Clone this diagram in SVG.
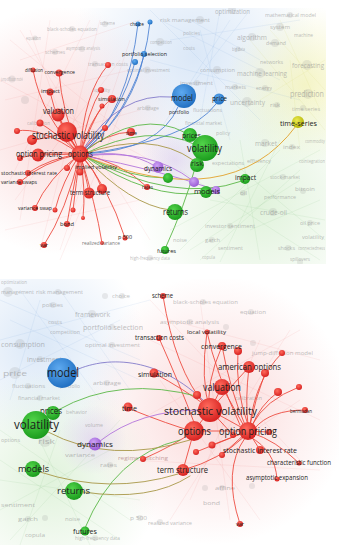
<svg xmlns="http://www.w3.org/2000/svg" width="339" height="550" viewBox="0 0 339 550">
<style>
text{font-family:"Open Sans","Liberation Sans",sans-serif}
.t{fill:#1c1c1c}
.f{fill:#8c8c8c;opacity:.55}
.e{fill:none;stroke-width:1;stroke-linecap:round}
.er{stroke:#ec4438;opacity:.85}
.eb{stroke:#4a80d2;opacity:.85}
.ebp{stroke:#7c74c8;opacity:.85}
.eg{stroke:#5cb848;opacity:.9}
.eo{stroke:#a89848;opacity:.9}
.eor{stroke:#e2a22c;opacity:.9}
.ep{stroke:#b476dc;opacity:.9}
.bg{fill:none;stroke-width:.5;opacity:.18}
.r{fill:url(#gr)}
.b{fill:url(#gb)}
.g{fill:url(#gg)}
.p{fill:url(#gp)}
.y{fill:url(#gy)}
</style>
<defs>
<radialGradient id="gr" cx=".4" cy=".35" r=".7"><stop offset="0" stop-color="#ff6a5c"/><stop offset="1" stop-color="#d41c1c"/></radialGradient>
<radialGradient id="gb" cx=".4" cy=".35" r=".7"><stop offset="0" stop-color="#5eaaf0"/><stop offset="1" stop-color="#1d6cbf"/></radialGradient>
<radialGradient id="gg" cx=".4" cy=".35" r=".7"><stop offset="0" stop-color="#52d44a"/><stop offset="1" stop-color="#17981a"/></radialGradient>
<radialGradient id="gp" cx=".4" cy=".35" r=".7"><stop offset="0" stop-color="#cda2f4"/><stop offset="1" stop-color="#9656d4"/></radialGradient>
<radialGradient id="gy" cx=".4" cy=".35" r=".7"><stop offset="0" stop-color="#eaea50"/><stop offset="1" stop-color="#b0b000"/></radialGradient>
<radialGradient id="hR"><stop offset="0" stop-color="#f6b8b8" stop-opacity=".55"/><stop offset="1" stop-color="#f6b8b8" stop-opacity="0"/></radialGradient>
<radialGradient id="hB"><stop offset="0" stop-color="#c2d8f2" stop-opacity=".6"/><stop offset="1" stop-color="#c2d8f2" stop-opacity="0"/></radialGradient>
<radialGradient id="hY"><stop offset="0" stop-color="#efefa8" stop-opacity=".65"/><stop offset="1" stop-color="#efefa8" stop-opacity="0"/></radialGradient>
<radialGradient id="hG"><stop offset="0" stop-color="#cceac4" stop-opacity=".6"/><stop offset="1" stop-color="#cceac4" stop-opacity="0"/></radialGradient>
<radialGradient id="hP"><stop offset="0" stop-color="#dccaf0" stop-opacity=".6"/><stop offset="1" stop-color="#dccaf0" stop-opacity="0"/></radialGradient>
<clipPath id="cTop"><rect x="0" y="8" width="326" height="256"/></clipPath>
<clipPath id="cBot"><rect x="0" y="279" width="339" height="266"/></clipPath>
</defs>
<rect width="339" height="550" fill="#fff"/>

<!-- ========== TOP PANEL ========== -->
<g id="top-panel" clip-path="url(#cTop)">
<g id="top-background">
<circle cx="60" cy="130" r="125" fill="url(#hR)"/>
<circle cx="195" cy="55" r="125" fill="url(#hB)"/>
<circle cx="305" cy="85" r="80" fill="url(#hY)"/>
<circle cx="260" cy="205" r="125" fill="url(#hG)"/>
<circle cx="175" cy="160" r="35" fill="url(#hP)"/>
<path class="bg" stroke="#e86060" d="M10,40L120,130M20,60L140,20M5,100L130,70M30,30L90,200M50,20L20,220M0,150L140,110M15,200L120,60M60,260L130,90M100,20L40,250M0,80L150,160M5,230L140,200M20,30L150,240M90,20L10,180M130,40L60,250"/>
<path class="bg" stroke="#5a8ed8" d="M150,10L260,120M170,40L300,20M180,100L250,10M200,30L230,140M150,60L300,100M230,20L160,130M260,60L190,20M160,20L280,80M220,10L200,120"/>
<path class="bg" stroke="#c8c840" d="M250,40L325,130M280,20L320,110M260,100L325,60M290,60L300,150M270,30L325,90"/>
<path class="bg" stroke="#60b060" d="M170,230L320,150M200,260L300,170M180,170L320,260M240,140L260,260M210,200L325,220M280,140L220,262M300,180L190,250M250,230L320,200M230,160L325,240M180,250L280,150"/>
<g fill="#8a8a8a" opacity=".16">
<circle cx="105" cy="24" r="3"/><circle cx="72" cy="29" r="3"/><circle cx="35" cy="38" r="2.5"/><circle cx="55" cy="52" r="3"/><circle cx="82" cy="49" r="3"/><circle cx="95" cy="64" r="3"/><circle cx="12" cy="79" r="3.5"/><circle cx="25" cy="100" r="4"/><circle cx="160" cy="42" r="4"/><circle cx="147" cy="70" r="3.5"/><circle cx="148" cy="108" r="3"/><circle cx="232" cy="10" r="4"/><circle cx="200" cy="20" r="4"/><circle cx="290" cy="15" r="3"/><circle cx="280" cy="27" r="4"/><circle cx="252" cy="37" r="4"/><circle cx="275" cy="43" r="4"/><circle cx="238" cy="49" r="2.5"/><circle cx="307" cy="65" r="5"/><circle cx="260" cy="73" r="5"/><circle cx="217" cy="70" r="4"/><circle cx="197" cy="83" r="3"/><circle cx="235" cy="87" r="3"/><circle cx="265" cy="88" r="3"/><circle cx="308" cy="94" r="5"/><circle cx="247" cy="102" r="5"/><circle cx="277" cy="105" r="3"/><circle cx="303" cy="108" r="3"/><circle cx="265" cy="143" r="4"/><circle cx="292" cy="147" r="3"/><circle cx="283" cy="177" r="3"/><circle cx="303" cy="191" r="3"/><circle cx="243" cy="193" r="3"/><circle cx="273" cy="212" r="4"/><circle cx="310" cy="223" r="3"/><circle cx="212" cy="240" r="3"/><circle cx="288" cy="248" r="3"/><circle cx="300" cy="262" r="3"/><circle cx="150" cy="258" r="3"/><circle cx="230" cy="226" r="3"/>
</g>
<g id="top-faded-labels">
<text class="f" x="47" y="31" font-size="5.5" textLength="50" lengthAdjust="spacingAndGlyphs">black-scholes equation</text>
<text class="f" x="100" y="25" font-size="5.5" textLength="15" lengthAdjust="spacingAndGlyphs">scheme</text>
<text class="f" x="26" y="40" font-size="5" textLength="15" lengthAdjust="spacingAndGlyphs">equation</text>
<text class="f" x="45" y="54" font-size="5" textLength="20" lengthAdjust="spacingAndGlyphs">schemes</text>
<text class="f" x="66" y="50" font-size="5" textLength="34" lengthAdjust="spacingAndGlyphs">asymptotic analysis</text>
<text class="f" x="88" y="66" font-size="5" textLength="40" lengthAdjust="spacingAndGlyphs">transaction costs</text>
<text class="f" x="1" y="81" font-size="4.5" textLength="22" lengthAdjust="spacingAndGlyphs">jump-diffusion model</text>
<text class="f" x="93" y="92" font-size="5" textLength="17" lengthAdjust="spacingAndGlyphs">liquidity</text>
<text class="f" x="27" y="125" font-size="5" textLength="23" lengthAdjust="spacingAndGlyphs">calibration</text>
<text class="f" x="137" y="110" font-size="5" textLength="22" lengthAdjust="spacingAndGlyphs">arbitrage</text>
<text class="f" x="127" y="72" font-size="5" textLength="43" lengthAdjust="spacingAndGlyphs">optimal investment</text>
<text class="f" x="150" y="44" font-size="5" textLength="22" lengthAdjust="spacingAndGlyphs">competition</text>
<text class="f" x="215" y="14" font-size="7" textLength="35" lengthAdjust="spacingAndGlyphs">optimization</text>
<text class="f" x="160" y="22" font-size="6" textLength="50" lengthAdjust="spacingAndGlyphs">risk management</text>
<text class="f" x="265" y="17" font-size="6" textLength="51" lengthAdjust="spacingAndGlyphs">mathematical model</text>
<text class="f" x="270" y="29" font-size="6" textLength="20" lengthAdjust="spacingAndGlyphs">system</text>
<text class="f" x="294" y="37" font-size="5" textLength="19" lengthAdjust="spacingAndGlyphs">machine</text>
<text class="f" x="183" y="35" font-size="5" textLength="17" lengthAdjust="spacingAndGlyphs">policies</text>
<text class="f" x="237" y="40" font-size="7" textLength="30" lengthAdjust="spacingAndGlyphs">algorithm</text>
<text class="f" x="266" y="45" font-size="6" textLength="20" lengthAdjust="spacingAndGlyphs">demand</text>
<text class="f" x="183" y="50" font-size="5" textLength="12" lengthAdjust="spacingAndGlyphs">costs</text>
<text class="f" x="232" y="51" font-size="4.5" textLength="13" lengthAdjust="spacingAndGlyphs">big data</text>
<text class="f" x="260" y="64" font-size="5" textLength="23" lengthAdjust="spacingAndGlyphs">networks</text>
<text class="f" x="292" y="68" font-size="8" textLength="32" lengthAdjust="spacingAndGlyphs">forecasting</text>
<text class="f" x="200" y="72" font-size="6" textLength="35" lengthAdjust="spacingAndGlyphs">consumption</text>
<text class="f" x="237" y="76" font-size="8" textLength="50" lengthAdjust="spacingAndGlyphs">machine learning</text>
<text class="f" x="180" y="85" font-size="6" textLength="33" lengthAdjust="spacingAndGlyphs">investment</text>
<text class="f" x="225" y="89" font-size="6" textLength="21" lengthAdjust="spacingAndGlyphs">markets</text>
<text class="f" x="256" y="90" font-size="6" textLength="16" lengthAdjust="spacingAndGlyphs">energy</text>
<text class="f" x="290" y="97" font-size="9" textLength="34" lengthAdjust="spacingAndGlyphs">prediction</text>
<text class="f" x="230" y="104.5" font-size="7" textLength="35" lengthAdjust="spacingAndGlyphs">uncertainty</text>
<text class="f" x="270" y="107" font-size="5" textLength="10" lengthAdjust="spacingAndGlyphs">risk</text>
<text class="f" x="292" y="111" font-size="5" textLength="28" lengthAdjust="spacingAndGlyphs">time series</text>
<text class="f" x="193" y="112" font-size="5" textLength="29" lengthAdjust="spacingAndGlyphs">fluctuations</text>
<text class="f" x="185" y="125" font-size="5" textLength="37" lengthAdjust="spacingAndGlyphs">financial market</text>
<text class="f" x="216" y="135" font-size="5" textLength="14" lengthAdjust="spacingAndGlyphs">policy</text>
<text class="f" x="255" y="145.5" font-size="7" textLength="22" lengthAdjust="spacingAndGlyphs">market</text>
<text class="f" x="283" y="149" font-size="6" textLength="17" lengthAdjust="spacingAndGlyphs">index</text>
<text class="f" x="305" y="143" font-size="5" textLength="20" lengthAdjust="spacingAndGlyphs">commodity</text>
<text class="f" x="212" y="165" font-size="5" textLength="32" lengthAdjust="spacingAndGlyphs">expectations</text>
<text class="f" x="247" y="163" font-size="5" textLength="24" lengthAdjust="spacingAndGlyphs">efficiency</text>
<text class="f" x="299" y="163" font-size="5" textLength="26" lengthAdjust="spacingAndGlyphs">cointegration</text>
<text class="f" x="270" y="179" font-size="6" textLength="30" lengthAdjust="spacingAndGlyphs">stock-market</text>
<text class="f" x="295" y="191" font-size="6" textLength="20" lengthAdjust="spacingAndGlyphs">bitcoin</text>
<text class="f" x="264" y="199" font-size="6" textLength="32" lengthAdjust="spacingAndGlyphs">performance</text>
<text class="f" x="240" y="195" font-size="5" textLength="7" lengthAdjust="spacingAndGlyphs">oil</text>
<text class="f" x="260" y="214.5" font-size="7" textLength="27" lengthAdjust="spacingAndGlyphs">crude-oil</text>
<text class="f" x="300" y="225" font-size="5" textLength="20" lengthAdjust="spacingAndGlyphs">oil price</text>
<text class="f" x="205" y="228" font-size="6" textLength="50" lengthAdjust="spacingAndGlyphs">investor sentiment</text>
<text class="f" x="302" y="239" font-size="5" textLength="22" lengthAdjust="spacingAndGlyphs">volatility</text>
<text class="f" x="205" y="242" font-size="6" textLength="15" lengthAdjust="spacingAndGlyphs">garch</text>
<text class="f" x="173" y="242" font-size="5" textLength="14" lengthAdjust="spacingAndGlyphs">noise</text>
<text class="f" x="218" y="250" font-size="6" textLength="25" lengthAdjust="spacingAndGlyphs">sentiment</text>
<text class="f" x="278" y="250" font-size="6" textLength="17" lengthAdjust="spacingAndGlyphs">shocks</text>
<text class="f" x="298" y="250" font-size="4.5" textLength="27" lengthAdjust="spacingAndGlyphs">connectedness</text>
<text class="f" x="202" y="259" font-size="5" textLength="13" lengthAdjust="spacingAndGlyphs">copula</text>
<text class="f" x="290" y="261" font-size="5" textLength="20" lengthAdjust="spacingAndGlyphs">spillovers</text>
<text class="f" x="130" y="260" font-size="5" textLength="40" lengthAdjust="spacingAndGlyphs">high-frequency data</text>
</g>
</g>

<g id="top-connectors">
<path class="e er" d="M80,154Q42,118 33,70M80,154Q62,112 59,73M80,154Q56,122 50,92M80,154Q84,92 108,65M80,154Q92,112 112,99M80,154Q88,110 101,90M80,154Q92,122 102,106M80,154Q66,132 58,115M80,154Q55,132 40,123M80,154Q40,126 17,131M80,154Q108,132 131,132M80,154Q96,134 105,128M80,154Q50,158 28,173M80,154Q42,162 20,182M80,154Q48,178 35,208M80,154Q62,182 55,210M80,154Q76,185 73,210M80,154Q86,190 83,218M80,154Q72,195 67,224M80,154Q66,212 44,245M80,154Q108,185 125,238M80,154Q96,205 102,243M80,154Q86,176 89,193M80,154Q95,170 102,189M80,154Q122,162 147,187M80,154Q72,160 67,168M80,154L80,172M80,154L38,155M67,132L80,154M67,132Q40,140 32,140M80,154Q45,150 20,158M67,132Q60,120 58,115"/>
<path class="e eb" d="M84,150Q128,110 138,24M86,150Q142,100 150,22M84,150Q122,112 135,62M86,150Q134,108 144,54M84,154Q160,150 178,107M84,154Q190,140 216,104"/>
<path class="e ebp" d="M84,148Q120,92 172,97"/>
<path class="e eg" d="M84,152Q140,108 186,133M84,154Q150,122 196,145M84,156Q175,205 242,181M84,156Q150,200 203,193M84,156Q130,178 165,178M165,249Q185,205 195,168"/>
<path class="e eo" d="M84,154Q150,130 193,160M84,156Q130,205 170,210"/>
<path class="e ep" d="M84,156Q125,148 155,166M84,156Q150,148 192,180M84,156Q160,170 213,189"/>
<path class="e eor" d="M84,156Q230,215 296,126"/>
</g>

<g id="t-stochastic-interest-rate"><circle class="r" cx="28" cy="173" r="3"/><text class="t" x="1" y="175" font-size="5" textLength="56" lengthAdjust="spacingAndGlyphs">stochastic interest rate</text></g>
<g id="t-variance-swaps"><circle class="r" cx="20" cy="182" r="3"/><text class="t" x="1" y="184" font-size="5" textLength="36" lengthAdjust="spacingAndGlyphs">variance swaps</text></g>
<g id="t-node-a"><circle class="r" cx="32" cy="140" r="5"/></g>
<g id="t-node-b"><circle class="r" cx="17" cy="131" r="3"/></g>
<g id="t-node-c"><circle class="r" cx="20" cy="158" r="3"/></g>
<g id="t-calibration"><circle class="r" cx="40" cy="123" r="3.5"/></g>
<g id="t-liquidity"><circle class="r" cx="101" cy="90" r="3"/></g>
<g id="t-node-d"><circle class="r" cx="102" cy="106" r="2.5"/></g>
<g id="t-node-e"><circle class="r" cx="105" cy="128" r="3"/></g>
<g id="t-stochastic-volatility"><circle class="r" cx="67" cy="132" r="10"/><text class="t" x="32" y="138.5" font-size="10" textLength="72" lengthAdjust="spacingAndGlyphs">stochastic volatility</text></g>
<g id="t-option-pricing"><circle class="r" cx="38" cy="155" r="6.5"/><text class="t" x="16" y="157" font-size="8.5" textLength="46" lengthAdjust="spacingAndGlyphs">option pricing</text></g>
<g id="t-options"><circle class="r" cx="80" cy="154" r="8.5"/><text class="t" x="68" y="157" font-size="8.5" textLength="25" lengthAdjust="spacingAndGlyphs">options</text></g>
<g id="t-valuation"><circle class="r" cx="58" cy="115" r="6.5"/><text class="t" x="43" y="114" font-size="9" textLength="31" lengthAdjust="spacingAndGlyphs">valuation</text></g>
<g id="t-time"><circle class="r" cx="131" cy="132" r="4"/><text class="t" x="126" y="135" font-size="5.5" textLength="11" lengthAdjust="spacingAndGlyphs">time</text></g>
<g id="t-simulation"><circle class="r" cx="112" cy="99" r="4"/><text class="t" x="98" y="101" font-size="6" textLength="27" lengthAdjust="spacingAndGlyphs">simulation</text></g>
<g id="t-transaction-costs"><circle class="r" cx="108" cy="65" r="3"/></g>
<g id="t-impact-red"><circle class="r" cx="50" cy="92" r="3.5"/><text class="t" x="41" y="93" font-size="6" textLength="19" lengthAdjust="spacingAndGlyphs">impact</text></g>
<g id="t-convergence"><circle class="r" cx="59" cy="73" r="3.5"/><text class="t" x="44.5" y="74" font-size="6" textLength="30.5" lengthAdjust="spacingAndGlyphs">convergence</text></g>
<g id="t-diffusion"><circle class="r" cx="33" cy="70" r="2.5"/><text class="t" x="25" y="71.5" font-size="5.5" textLength="18" lengthAdjust="spacingAndGlyphs">diffusion</text></g>
<g id="t-implied-volatility"><circle class="r" cx="67" cy="168" r="3"/><circle class="r" cx="80" cy="172" r="3.5"/><text class="t" x="75" y="169" font-size="5.5" textLength="42" lengthAdjust="spacingAndGlyphs">implied volatility</text></g>
<g id="t-term-structure"><circle class="r" cx="89" cy="193" r="5.5"/><circle class="r" cx="102" cy="189" r="5"/><text class="t" x="70" y="194.5" font-size="6.5" textLength="40" lengthAdjust="spacingAndGlyphs">term structure</text></g>
<g id="t-variance-swap"><circle class="r" cx="35" cy="208" r="3"/><text class="t" x="18" y="210" font-size="5.5" textLength="34" lengthAdjust="spacingAndGlyphs">variance swap</text></g>
<g id="t-node-f"><circle class="r" cx="55" cy="210" r="2.5"/><circle class="r" cx="73" cy="210" r="2.5"/><circle class="r" cx="83" cy="218" r="2"/></g>
<g id="t-bond"><circle class="r" cx="67" cy="224" r="3"/><text class="t" x="60" y="226" font-size="5.5" textLength="14" lengthAdjust="spacingAndGlyphs">bond</text></g>
<g id="t-var"><circle class="r" cx="44" cy="245" r="3"/><text class="t" x="40" y="246.5" font-size="4.5" textLength="8" lengthAdjust="spacingAndGlyphs">var</text></g>
<g id="t-p500"><circle class="r" cx="125" cy="238" r="2.5"/><text class="t" x="118" y="239" font-size="5.5" textLength="14" lengthAdjust="spacingAndGlyphs">p 500</text></g>
<g id="t-realized-variance"><circle class="r" cx="102" cy="243" r="2"/><text x="82" y="245" font-size="5" fill="#777" textLength="38" lengthAdjust="spacingAndGlyphs">realized variance</text></g>
<g id="t-rates"><circle class="r" cx="147" cy="187" r="3"/><text class="t" x="142" y="189" font-size="5" textLength="11" lengthAdjust="spacingAndGlyphs">rates</text></g>
<g id="t-choice"><circle class="b" cx="138" cy="24" r="2.5"/><circle class="b" cx="150" cy="22" r="2.5"/><text class="t" x="130" y="26" font-size="5.5" textLength="14" lengthAdjust="spacingAndGlyphs">choice</text></g>
<g id="t-portfolio-selection"><circle class="b" cx="135" cy="62" r="3"/><circle class="b" cx="144" cy="54" r="3"/><text class="t" x="122" y="56" font-size="6" textLength="45" lengthAdjust="spacingAndGlyphs">portfolio selection</text></g>
<g id="t-model"><circle class="b" cx="184" cy="96" r="12"/><text class="t" x="171" y="101" font-size="9.5" textLength="22" lengthAdjust="spacingAndGlyphs">model</text><text class="t" x="169" y="113.5" font-size="4.5" textLength="20" lengthAdjust="spacingAndGlyphs">portfolio</text></g>
<g id="t-price"><circle class="b" cx="219" cy="99" r="5.5"/><text class="t" x="212" y="101.3" font-size="6.5" textLength="15" lengthAdjust="spacingAndGlyphs">price</text></g>
<g id="t-dynamics"><circle class="p" cx="158" cy="167" r="5.5"/><text class="t" x="144" y="170.5" font-size="7" textLength="28" lengthAdjust="spacingAndGlyphs">dynamics</text></g>
<g id="t-node-g"><circle class="g" cx="168" cy="178" r="5"/></g>
<g id="t-prices"><circle class="g" cx="190" cy="135" r="7"/><text class="t" x="182" y="138" font-size="8" textLength="19" lengthAdjust="spacingAndGlyphs">prices</text></g>
<g id="t-volatility"><circle class="g" cx="205" cy="148" r="13"/><text class="t" x="187" y="151.5" font-size="10" textLength="35" lengthAdjust="spacingAndGlyphs">volatility</text></g>
<g id="t-risk"><circle class="g" cx="197" cy="165" r="7"/><text class="t" x="191" y="166" font-size="8" textLength="12" lengthAdjust="spacingAndGlyphs">risk</text></g>
<g id="t-purple-a"><circle class="p" cx="194" cy="182" r="5"/></g>
<g id="t-models"><circle class="g" cx="206" cy="192" r="6"/><circle class="p" cx="216" cy="190" r="4"/><text class="t" x="194" y="193.6" font-size="7.5" textLength="26" lengthAdjust="spacingAndGlyphs">models</text></g>
<g id="t-impact"><circle class="g" cx="245" cy="179" r="5"/><text class="t" x="235" y="179.5" font-size="7" textLength="21" lengthAdjust="spacingAndGlyphs">impact</text></g>
<g id="t-returns"><circle class="g" cx="175" cy="212" r="8"/><text class="t" x="163" y="215" font-size="8.5" textLength="25" lengthAdjust="spacingAndGlyphs">returns</text></g>
<g id="t-futures"><circle class="g" cx="165" cy="250" r="4"/><text class="t" x="157" y="253" font-size="5.5" textLength="19" lengthAdjust="spacingAndGlyphs">futures</text></g>
<g id="t-time-series"><circle class="y" cx="298" cy="122" r="6"/><text class="t" x="280" y="125.6" font-size="7.5" textLength="37" lengthAdjust="spacingAndGlyphs">time-series</text></g>
</g>

<!-- ========== BOTTOM PANEL ========== -->
<g id="bottom-panel" clip-path="url(#cBot)">
<g id="bottom-background">
<circle cx="40" cy="345" r="105" fill="url(#hB)"/>
<circle cx="50" cy="480" r="110" fill="url(#hG)"/>
<circle cx="215" cy="410" r="135" fill="url(#hR)"/>
<circle cx="92" cy="440" r="35" fill="url(#hP)"/>
<path class="bg" stroke="#5a8ed8" d="M0,300L140,360M20,290L100,400M0,340L150,300M40,300L10,400M60,290L130,390M0,380L120,320M10,320L140,380"/>
<path class="bg" stroke="#60b060" d="M0,430L130,520M10,540L120,420M0,480L140,500M30,420L90,545M0,510L110,450M60,430L20,545M0,460L120,540"/>
<path class="bg" stroke="#e86060" d="M150,300L300,460M170,320L320,360M140,420L300,330M180,480L300,400M160,380L260,520M200,300L230,520M130,460L320,470M260,340L190,500M150,340L320,420M290,330L170,520"/>
<g fill="#8a8a8a" opacity=".16">
<circle cx="8" cy="292" r="5"/><circle cx="58" cy="292" r="3"/><circle cx="105" cy="296" r="3"/><circle cx="122" cy="296" r="3"/><circle cx="53" cy="305" r="3"/><circle cx="92" cy="314" r="4"/><circle cx="112" cy="327" r="3"/><circle cx="20" cy="344" r="5"/><circle cx="112" cy="345" r="3"/><circle cx="40" cy="359" r="3"/><circle cx="15" cy="373" r="6"/><circle cx="107" cy="383" r="3"/><circle cx="28" cy="386" r="3"/><circle cx="40" cy="398" r="3"/><circle cx="203" cy="302" r="3"/><circle cx="251" cy="312" r="3"/><circle cx="190" cy="322" r="3"/><circle cx="226" cy="327" r="3"/><circle cx="253" cy="343" r="3"/><circle cx="45" cy="441" r="6"/><circle cx="110" cy="465" r="3"/><circle cx="28" cy="519" r="3"/><circle cx="45" cy="518" r="3"/><circle cx="95" cy="538" r="3"/><circle cx="222" cy="488" r="3"/><circle cx="205" cy="488" r="3"/><circle cx="252" cy="486" r="3"/><circle cx="160" cy="522" r="3"/><circle cx="140" cy="518" r="3"/></g>
<g id="bottom-faded-labels">
<text class="f" x="1" y="284" font-size="6" textLength="26" lengthAdjust="spacingAndGlyphs">optimization</text>
<text class="f" x="1" y="294" font-size="5.5" textLength="33" lengthAdjust="spacingAndGlyphs">management</text>
<text class="f" x="36" y="294" font-size="6" textLength="47" lengthAdjust="spacingAndGlyphs">risk management</text>
<text class="f" x="112" y="298" font-size="6" textLength="18" lengthAdjust="spacingAndGlyphs">choice</text>
<text class="f" x="42" y="307" font-size="6" textLength="21" lengthAdjust="spacingAndGlyphs">policies</text>
<text class="f" x="75" y="316.5" font-size="7" fill="#b07070" textLength="35" lengthAdjust="spacingAndGlyphs">framework</text>
<text class="f" x="48" y="324" font-size="5" textLength="14" lengthAdjust="spacingAndGlyphs">costs</text>
<text class="f" x="83" y="329.5" font-size="7" textLength="60" lengthAdjust="spacingAndGlyphs">portfolio selection</text>
<text class="f" x="50" y="334" font-size="5" textLength="30" lengthAdjust="spacingAndGlyphs">competition</text>
<text class="f" x="1" y="346.5" font-size="7" textLength="44" lengthAdjust="spacingAndGlyphs">consumption</text>
<text class="f" x="85" y="347" font-size="5" textLength="55" lengthAdjust="spacingAndGlyphs">optimal investment</text>
<text class="f" x="27" y="361.5" font-size="7" textLength="35" lengthAdjust="spacingAndGlyphs">investment</text>
<text class="f" x="3" y="376" font-size="8" textLength="24" lengthAdjust="spacingAndGlyphs">price</text>
<text class="f" x="93" y="385" font-size="6" textLength="28" lengthAdjust="spacingAndGlyphs">arbitrage</text>
<text class="f" x="12" y="388" font-size="5" textLength="33" lengthAdjust="spacingAndGlyphs">fluctuations</text>
<text class="f" x="60" y="388" font-size="5" textLength="20" lengthAdjust="spacingAndGlyphs">portfolio</text>
<text class="f" x="18" y="400" font-size="5" textLength="42" lengthAdjust="spacingAndGlyphs">financial market</text>
<text class="f" x="66" y="414" font-size="5" textLength="21" lengthAdjust="spacingAndGlyphs">behavior</text>
<text class="f" x="85" y="427" font-size="5" textLength="18" lengthAdjust="spacingAndGlyphs">volume</text>
<text class="f" x="1" y="442" font-size="5" textLength="19" lengthAdjust="spacingAndGlyphs">options</text>
<text class="f" x="38" y="444" font-size="8" textLength="17" lengthAdjust="spacingAndGlyphs">risk</text>
<text class="f" x="65" y="457" font-size="6" textLength="30" lengthAdjust="spacingAndGlyphs">variance</text>
<text class="f" x="100" y="467" font-size="6" textLength="17" lengthAdjust="spacingAndGlyphs">rates</text>
<text x="118" y="460" font-size="6" fill="#b08080" opacity=".7" textLength="50" lengthAdjust="spacingAndGlyphs">regime switching</text>
<text class="f" x="1" y="507" font-size="6" textLength="34" lengthAdjust="spacingAndGlyphs">sentiment</text>
<text class="f" x="18" y="521" font-size="6" textLength="20" lengthAdjust="spacingAndGlyphs">garch</text>
<text class="f" x="65" y="521" font-size="5" textLength="15" lengthAdjust="spacingAndGlyphs">noise</text>
<text class="f" x="130" y="520" font-size="6" textLength="17" lengthAdjust="spacingAndGlyphs">p 500</text>
<text class="f" x="148" y="525" font-size="6" textLength="44" lengthAdjust="spacingAndGlyphs">realized variance</text>
<text class="f" x="25" y="537" font-size="5" textLength="20" lengthAdjust="spacingAndGlyphs">copula</text>
<text class="f" x="75" y="540" font-size="5" textLength="45" lengthAdjust="spacingAndGlyphs">high-frequency data</text>
<text class="f" x="215" y="490" font-size="6" textLength="20" lengthAdjust="spacingAndGlyphs">affine</text>
<text class="f" x="203" y="505" font-size="6" textLength="17" lengthAdjust="spacingAndGlyphs">bond</text>
<text class="f" x="173" y="304" font-size="6" textLength="65" lengthAdjust="spacingAndGlyphs">black-scholes equation</text>
<text class="f" x="240" y="314" font-size="6" textLength="26" lengthAdjust="spacingAndGlyphs">equation</text>
<text class="f" x="160" y="324" font-size="6" textLength="59" lengthAdjust="spacingAndGlyphs">asymptotic analysis</text>
<text class="f" x="252" y="355" font-size="6" textLength="61" lengthAdjust="spacingAndGlyphs">jump-diffusion model</text>
<text class="f" x="235" y="400" font-size="5" textLength="27" lengthAdjust="spacingAndGlyphs">calibration</text>
</g>
</g>

<g id="bottom-connectors">
<path class="e er" d="M163,296Q175,370 205,405M159,338Q180,385 195,425M207,332Q215,370 240,425M222,346Q230,390 245,425M238,351Q235,390 248,425M282,353Q255,380 250,425M249,367Q245,400 248,425M265,373Q255,400 250,425M222,387Q235,410 245,428M299,387Q265,400 252,425M278,392Q260,405 252,426M305,410Q270,410 255,428M299,463Q275,440 252,433M277,479Q275,450 250,437M240,524Q222,470 245,438M130,409Q170,425 192,431M154,373Q185,390 205,405M143,459Q175,445 194,431M183,470Q220,460 245,436M260,450L248,431M210,410L194,431M210,410L248,431M194,431L248,431M197,395L210,410M212,445L248,431M196,452L248,431M222,455L248,431M233,435L210,410M269,432L248,431M222,387L210,410M249,367L210,410M183,470L194,431M207,332Q200,380 210,410M222,346Q205,385 210,410"/>
<path class="e ebp" d="M76,370C110,355 160,358 205,402"/>
<path class="e eg" d="M58,410Q120,375 200,397M85,528Q115,455 180,440"/>
<path class="e eo" d="M48,432Q110,465 190,440M40,472Q110,495 178,474M83,492Q150,502 190,476"/>
<path class="e ep" d="M100,441Q140,410 200,410"/>
</g>

<g id="b-model"><circle class="b" cx="62" cy="373" r="15"/><text class="t" x="47" y="377" font-size="13" textLength="32" lengthAdjust="spacingAndGlyphs">model</text></g>
<g id="b-prices"><circle class="g" cx="53" cy="413" r="7"/><text class="t" x="40" y="414" font-size="9" textLength="22" lengthAdjust="spacingAndGlyphs">prices</text></g>
<g id="b-volatility"><circle class="g" cx="36" cy="425" r="14"/><text class="t" x="14" y="429" font-size="12" textLength="45" lengthAdjust="spacingAndGlyphs">volatility</text></g>
<g id="b-dynamics"><circle class="p" cx="95" cy="444" r="6.5"/><text class="t" x="77" y="447" font-size="8" textLength="36" lengthAdjust="spacingAndGlyphs">dynamics</text></g>
<g id="b-models"><circle class="g" cx="33" cy="469" r="8"/><text class="t" x="18" y="472" font-size="9" textLength="31" lengthAdjust="spacingAndGlyphs">models</text></g>
<g id="b-returns"><circle class="g" cx="74" cy="491" r="9"/><text class="t" x="57" y="494" font-size="9" textLength="33" lengthAdjust="spacingAndGlyphs">returns</text></g>
<g id="b-futures"><circle class="g" cx="85" cy="531" r="4.5"/><text class="t" x="73" y="533.5" font-size="7" textLength="24" lengthAdjust="spacingAndGlyphs">futures</text></g>
<g id="b-scheme"><circle class="r" cx="163" cy="296" r="3"/><text class="t" x="152" y="298" font-size="6.5" textLength="21" lengthAdjust="spacingAndGlyphs">scheme</text></g>
<g id="b-transaction-costs"><circle class="r" cx="159" cy="338" r="3"/><text class="t" x="135" y="340" font-size="6.5" textLength="49" lengthAdjust="spacingAndGlyphs">transaction costs</text></g>
<g id="b-local-volatility"><circle class="r" cx="207" cy="332" r="2.5"/><text class="t" x="187" y="334" font-size="6" textLength="39" lengthAdjust="spacingAndGlyphs">local volatility</text></g>
<g id="b-convergence"><circle class="r" cx="222" cy="346" r="4"/><circle class="r" cx="238" cy="351" r="4"/><text class="t" x="201" y="348.5" font-size="7" textLength="41" lengthAdjust="spacingAndGlyphs">convergence</text></g>
<g id="b-jump-diffusion-node"><circle class="r" cx="282" cy="353" r="3"/></g>
<g id="b-simulation"><circle class="r" cx="154" cy="373" r="4.5"/><text class="t" x="138" y="376.6" font-size="7.5" textLength="34" lengthAdjust="spacingAndGlyphs">simulation</text></g>
<g id="b-american-options"><circle class="r" cx="249" cy="367" r="6"/><circle class="r" cx="265" cy="373" r="4"/><text class="t" x="218" y="370" font-size="8.5" textLength="63" lengthAdjust="spacingAndGlyphs">american options</text></g>
<g id="b-nodes-right"><circle class="r" cx="299" cy="387" r="3"/><circle class="r" cx="278" cy="392" r="4"/><circle class="r" cx="197" cy="395" r="4"/><circle class="r" cx="212" cy="445" r="3.5"/><circle class="r" cx="196" cy="452" r="3"/><circle class="r" cx="222" cy="455" r="3"/><circle class="r" cx="233" cy="435" r="3"/><circle class="r" cx="269" cy="432" r="3"/></g>
<g id="b-valuation"><circle class="r" cx="222" cy="387" r="8"/><text class="t" x="203" y="390.7" font-size="10.5" textLength="38" lengthAdjust="spacingAndGlyphs">valuation</text></g>
<g id="b-time"><circle class="r" cx="128" cy="407" r="4.5"/><text class="t" x="122" y="410.5" font-size="7" textLength="15" lengthAdjust="spacingAndGlyphs">time</text></g>
<g id="b-bermudan"><circle class="r" cx="305" cy="410" r="3"/><text class="t" x="290" y="413" font-size="6" textLength="22" lengthAdjust="spacingAndGlyphs">bermudan</text></g>
<g id="b-regime-switching"><circle class="r" cx="143" cy="459" r="3"/></g>
<g id="b-stochastic-volatility"><circle class="r" cx="210" cy="410" r="12"/><text class="t" x="164" y="415" font-size="11.5" textLength="93" lengthAdjust="spacingAndGlyphs">stochastic volatility</text></g>
<g id="b-options"><circle class="r" cx="194" cy="431" r="10"/><text class="t" x="178" y="434.5" font-size="10" textLength="33" lengthAdjust="spacingAndGlyphs">options</text></g>
<g id="b-option-pricing"><circle class="r" cx="248" cy="431" r="9"/><text class="t" x="219" y="434.5" font-size="10" textLength="58" lengthAdjust="spacingAndGlyphs">option pricing</text></g>
<g id="b-stochastic-interest-rate"><circle class="r" cx="260" cy="450" r="4"/><text class="t" x="223" y="452.5" font-size="7" textLength="74" lengthAdjust="spacingAndGlyphs">stochastic interest rate</text></g>
<g id="b-characteristic-function"><circle class="r" cx="299" cy="463" r="2.5"/><text class="t" x="267" y="465.3" font-size="6.5" textLength="64" lengthAdjust="spacingAndGlyphs">characteristic function</text></g>
<g id="b-asymptotic-expansion"><circle class="r" cx="277" cy="479" r="2.5"/><text class="t" x="246" y="480.3" font-size="6.5" textLength="62" lengthAdjust="spacingAndGlyphs">asymptotic expansion</text></g>
<g id="b-term-structure"><circle class="r" cx="183" cy="470" r="6"/><text class="t" x="157" y="473" font-size="8.5" textLength="51" lengthAdjust="spacingAndGlyphs">term structure</text></g>
<g id="b-var"><circle class="r" cx="240" cy="524" r="3"/><text class="t" x="236" y="525.8" font-size="5" textLength="8" lengthAdjust="spacingAndGlyphs">var</text></g>
</g>
</svg>
